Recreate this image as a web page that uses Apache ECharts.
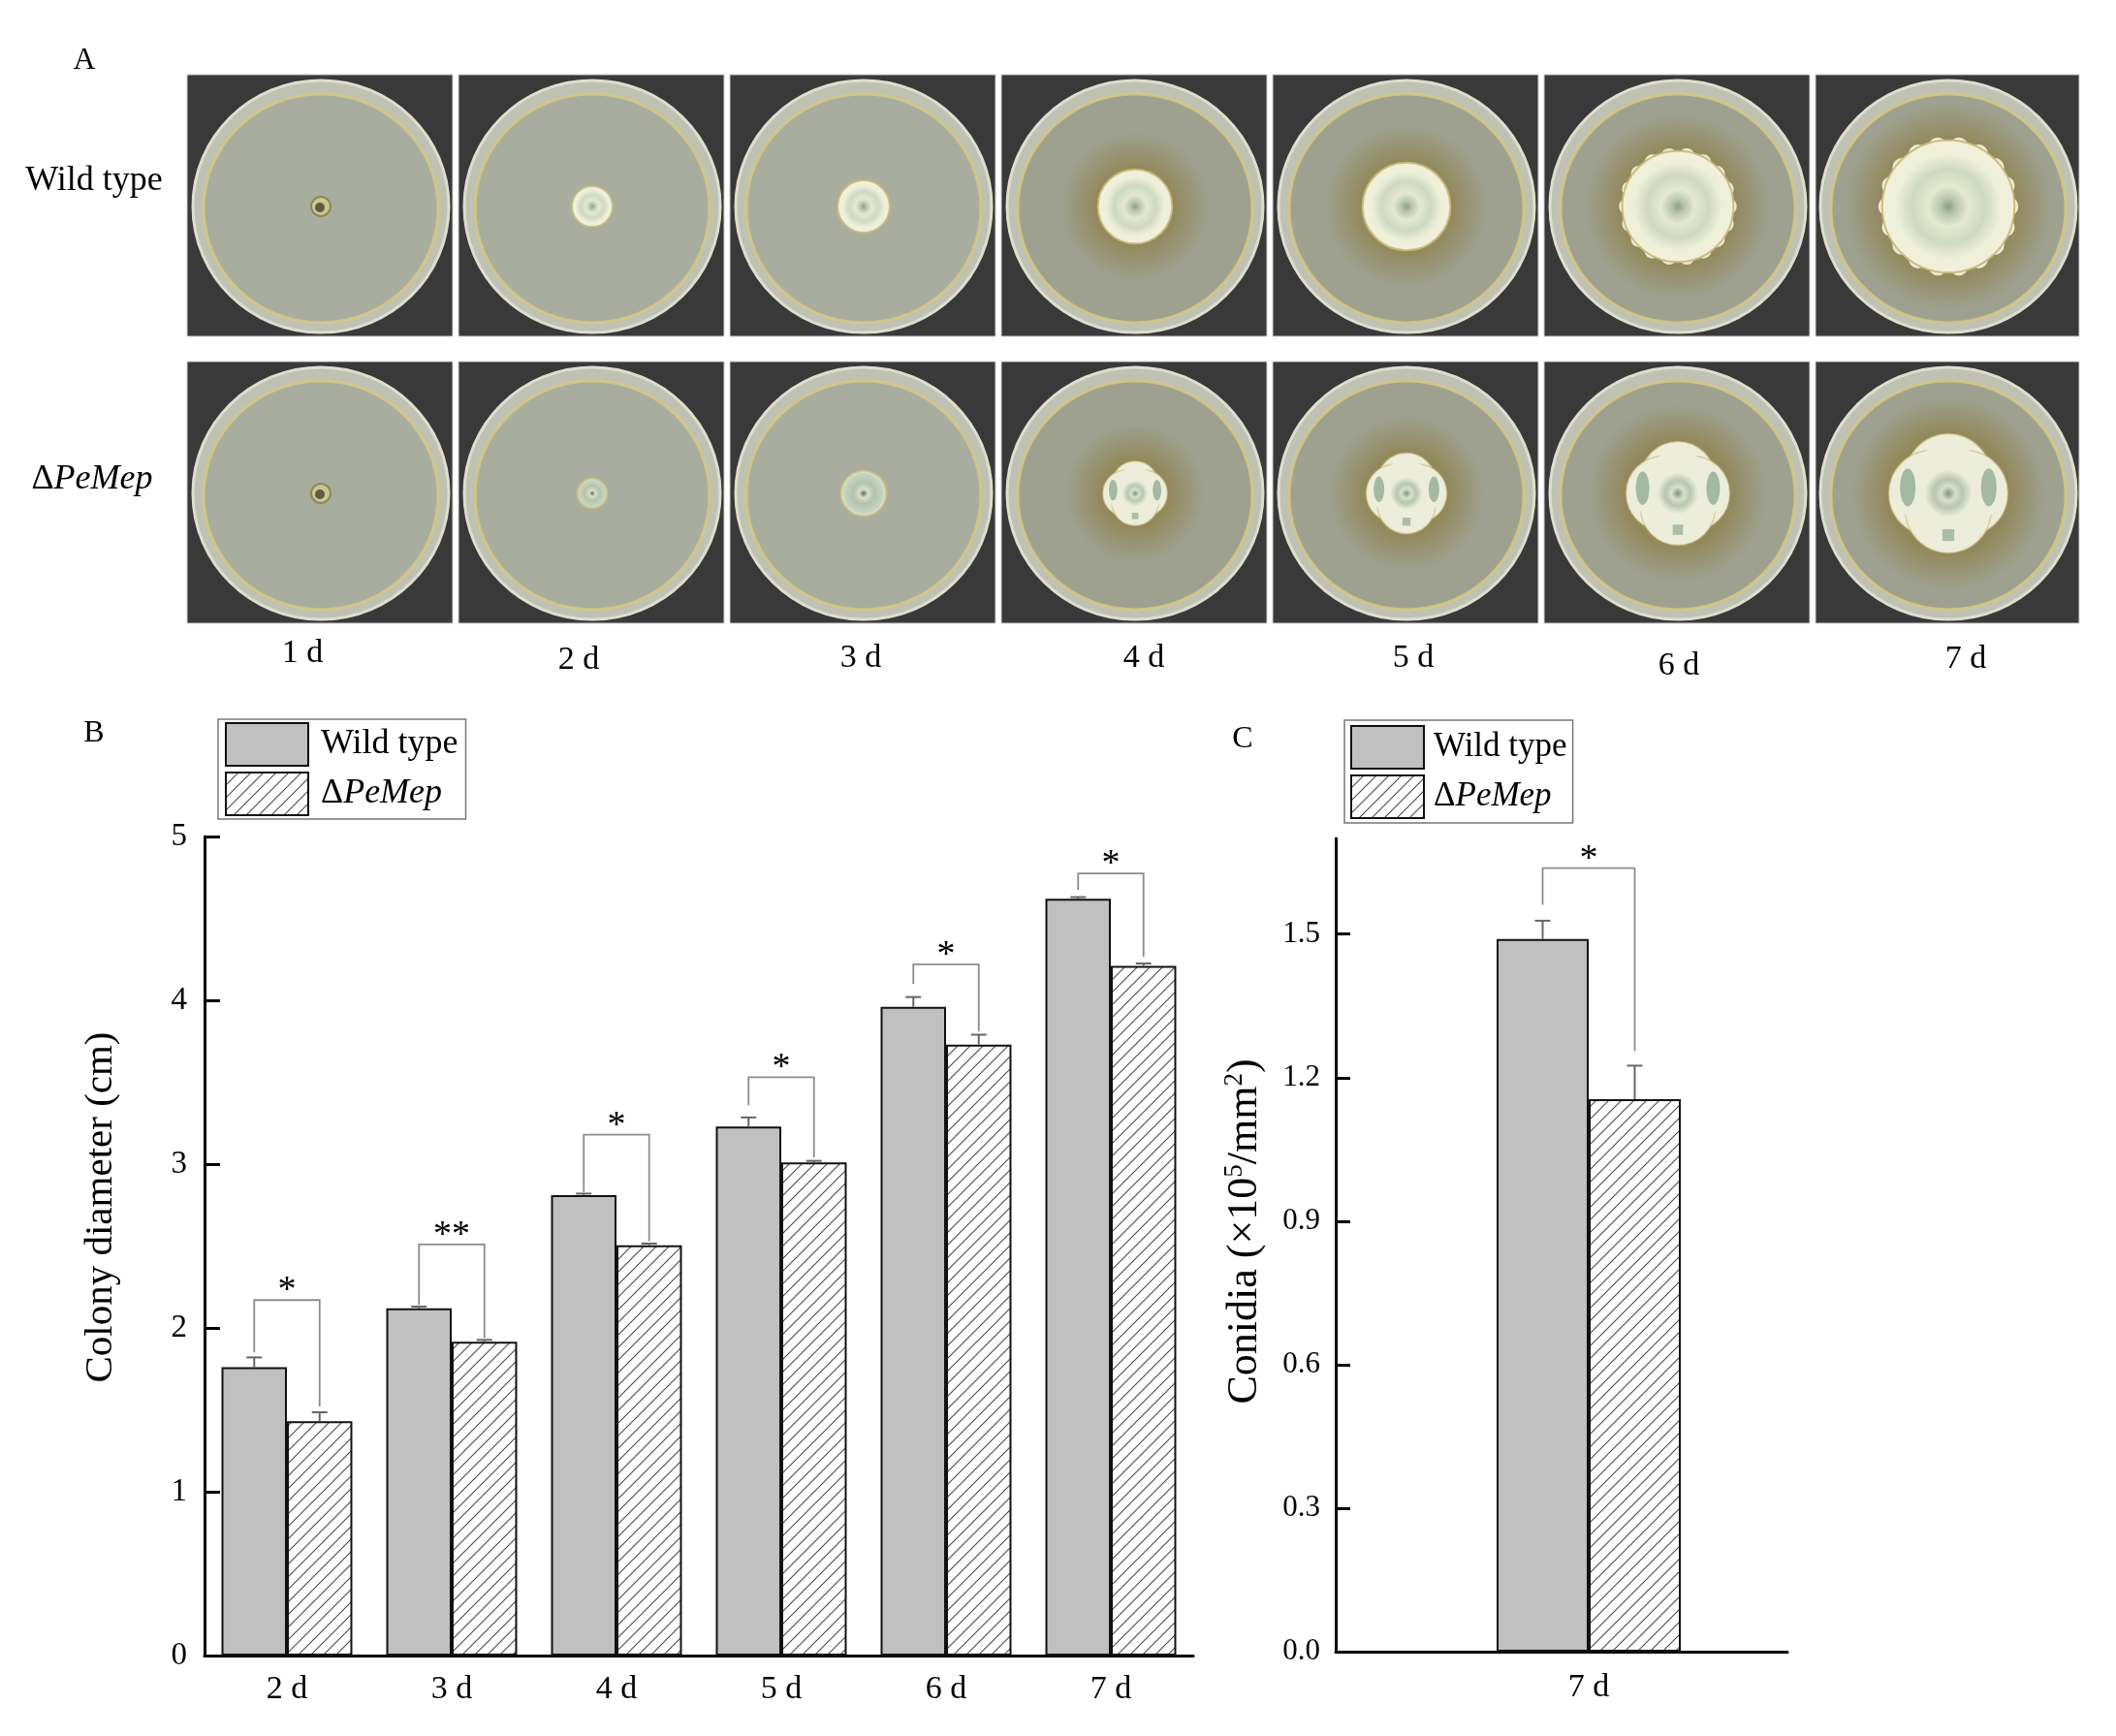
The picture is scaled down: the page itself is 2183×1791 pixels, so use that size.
<!DOCTYPE html>
<html>
<head>
<meta charset="utf-8">
<script src="https://cdn.jsdelivr.net/npm/echarts@6/dist/echarts.min.js"></script>
<style>
html,body{margin:0;padding:0;background:#fff;}
#chart{width:2183px;height:1791px;}
</style>
</head>
<body>
<div id="chart"></div>
<script>
// ---------------- DATA ----------------
const photoDays = ['1 d', '2 d', '3 d', '4 d', '5 d', '6 d', '7 d'];
const rowLabels = ['Wild type', 'ΔPeMep'];

const days = ['2 d', '3 d', '4 d', '5 d', '6 d', '7 d'];
const wtDiameter = [1.76, 2.12, 2.81, 3.23, 3.96, 4.62];
const wtDiameterErr = [0.06, 0.01, 0.01, 0.055, 0.06, 0.01];
const mutDiameter = [1.43, 1.915, 2.505, 3.01, 3.73, 4.21];
const mutDiameterErr = [0.055, 0.012, 0.01, 0.01, 0.06, 0.015];
const diameterSigMark = ['*', '**', '*', '*', '*', '*'];
const diameterSigTop = [2.17, 2.51, 3.18, 3.53, 4.22, 4.775];
const diameterSigLeftEnd = [1.85, 2.14, 2.83, 3.36, 4.10, 4.675];
const diameterSigRightEnd = [1.52, 1.94, 2.53, 3.04, 3.81, 4.267];
const diameterTicks = [0, 1, 2, 3, 4, 5];

const conidiaDays = ['7 d'];
const wtConidia = [1.49];
const wtConidiaErr = [0.038];
const mutConidia = [1.155];
const mutConidiaErr = [0.07];
const conidiaSigMark = ['*'];
const conidiaSigTop = [1.638];
const conidiaSigLeftEnd = [1.561];
const conidiaSigRightEnd = [1.256];
const conidiaTicks = [0, 0.3, 0.6, 0.9, 1.2, 1.5];

// ---------------- STYLE HELPERS ----------------
const FONT = '"Liberation Serif", "Times New Roman", serif';

function hatchCanvas() {
  const s = 13;
  const c = document.createElement('canvas');
  c.width = s; c.height = s;
  const ctx = c.getContext('2d');
  ctx.fillStyle = '#ffffff';
  ctx.fillRect(0, 0, s, s);
  ctx.strokeStyle = '#4a4a4a';
  ctx.lineWidth = 1.1;
  ctx.beginPath();
  ctx.moveTo(0, s); ctx.lineTo(s, 0);
  ctx.moveTo(-s / 2, s / 2); ctx.lineTo(s / 2, -s / 2);
  ctx.moveTo(s / 2, s * 1.5); ctx.lineTo(s * 1.5, s / 2);
  ctx.stroke();
  return c;
}
const hatchFill = { image: hatchCanvas(), repeat: 'repeat' };

const wtStyle = { color: '#c0c0c0', borderColor: '#111', borderWidth: 2 };
const mutStyle = { color: hatchFill, borderColor: '#111', borderWidth: 2 };

const B_GAP = 0.206;
function bBarWidth(api) { return api.size([1, 0])[0] * (1 - B_GAP) / 2; }
function cBarWidth() { return 95; }

function errRender(side, bwFn) {
  return function (params, api) {
    const ci = api.value(0), v = api.value(1), e = api.value(2);
    const bw = bwFn(api);
    const x = api.coord([ci, v])[0] + side * bw / 2;
    const yb = api.coord([ci, v])[1];
    const yt = api.coord([ci, v + e])[1];
    const cap = 8;
    return {
      type: 'group',
      children: [
        { type: 'line', shape: { x1: x, y1: yb, x2: x, y2: yt }, style: { stroke: '#666', lineWidth: 2 } },
        { type: 'line', shape: { x1: x - cap, y1: yt, x2: x + cap, y2: yt }, style: { stroke: '#666', lineWidth: 2 } }
      ]
    };
  };
}

function sigRender(marks, bwFn) {
  return function (params, api) {
    const ci = api.value(0);
    const bw = bwFn(api);
    const cx = api.coord([ci, 0])[0];
    const xL = cx - bw / 2, xR = cx + bw / 2;
    const yT = api.coord([ci, api.value(1)])[1];
    const yL = api.coord([ci, api.value(2)])[1];
    const yR = api.coord([ci, api.value(3)])[1];
    return {
      type: 'group',
      children: [
        { type: 'polyline', shape: { points: [[xL, yL], [xL, yT], [xR, yT], [xR, yR]] },
          style: { stroke: '#8c8c8c', lineWidth: 1.8, fill: null } },
        { type: 'text', style: { text: marks[params.dataIndex], x: cx, y: yT - 9,
          align: 'center', verticalAlign: 'middle', font: '38px ' + FONT, fill: '#000' } }
      ]
    };
  };
}

// ---------------- PANEL A (photo sketches) ----------------
const G = echarts.graphic;
function colonyPx(cm) { return 33 * cm - 16; }

function plate(col, row, diamCm) {
  const x0 = 193 + col * 280, y0 = row === 0 ? 77 : 373;
  const w = col === 6 ? 272 : 274, h = 270;
  const cx = x0 + w / 2 + 1, cy = y0 + h / 2 + 1;
  const dayN = col + 1;
  const late = dayN >= 4;
  const ch = [];
  ch.push({ type: 'rect', shape: { x: x0, y: y0, width: w, height: h },
    style: { fill: '#393939', stroke: '#cfcfcf', lineWidth: 1 } });
  ch.push({ type: 'ellipse', shape: { cx: cx, cy: cy, rx: 132, ry: 130 },
    style: { fill: '#bfc1b3', stroke: '#dddecf', lineWidth: 3 } });
  ch.push({ type: 'ellipse', shape: { cx: cx, cy: cy + 2, rx: 121, ry: 118 },
    style: { fill: late ? '#9ea190' : '#a9ad9f', stroke: 'rgba(214,200,130,0.85)', lineWidth: 3 } });
  if (diamCm === null) {
    ch.push({ type: 'circle', shape: { cx: cx, cy: cy, r: 10 }, style: { fill: '#c9c88f', stroke: '#8c8a55', lineWidth: 2 } });
    ch.push({ type: 'circle', shape: { cx: cx - 1, cy: cy + 1, r: 5 }, style: { fill: '#5a5c48' } });
    return { type: 'group', children: ch };
  }
  const R = colonyPx(diamCm) / 2;
  if (late) {
    ch.push({ type: 'circle', shape: { cx: cx, cy: cy, r: R + 38 },
      style: { fill: new G.RadialGradient(0.5, 0.5, 0.5, [
        { offset: 0, color: 'rgba(135,115,45,0.55)' },
        { offset: R / (R + 38), color: 'rgba(135,115,45,0.55)' },
        { offset: 1, color: 'rgba(135,115,45,0)' }]) } });
  }
  if (row === 0) {
    if (dayN >= 6) {
      const n = 18;
      for (let k = 0; k < n; k++) {
        const a = 2 * Math.PI * k / n;
        ch.push({ type: 'circle', shape: { cx: cx + Math.cos(a) * R * 0.92, cy: cy + Math.sin(a) * R * 0.92, r: R * 0.14 },
          style: { fill: '#ecebd2' } });
      }
    }
    ch.push({ type: 'circle', shape: { cx: cx, cy: cy, r: R },
      style: { fill: new G.RadialGradient(0.5, 0.5, 0.5, [
        { offset: 0, color: '#8e9d8a' }, { offset: 0.12, color: '#b9c5ae' },
        { offset: 0.3, color: '#e5e9d1' }, { offset: 0.55, color: '#cfd9c2' },
        { offset: 0.78, color: '#eef0da' }, { offset: 1, color: '#f1f0dc' }]),
        stroke: 'rgba(200,185,120,0.9)', lineWidth: 2 } });
  } else {
    if (late) {
      const angs = [-90, 180, 0, 90];
      angs.forEach(function (d) {
        const a = d * Math.PI / 180;
        ch.push({ type: 'circle', shape: { cx: cx + Math.cos(a) * R * 0.28, cy: cy + Math.sin(a) * R * 0.28, r: R * 0.72 },
          style: { fill: '#eceedb', stroke: 'rgba(200,185,120,0.6)', lineWidth: 1.5 } });
      });
      ch.push({ type: 'circle', shape: { cx: cx, cy: cy, r: R * 0.8 }, style: { fill: '#eceedb' } });
      ch.push({ type: 'ellipse', shape: { cx: cx - R * 0.68, cy: cy - R * 0.1, rx: R * 0.13, ry: R * 0.32 }, style: { fill: '#a3b9a2' } });
      ch.push({ type: 'ellipse', shape: { cx: cx + R * 0.68, cy: cy - R * 0.1, rx: R * 0.13, ry: R * 0.32 }, style: { fill: '#a3b9a2' } });
      ch.push({ type: 'rect', shape: { x: cx - R * 0.1, y: cy + R * 0.6, width: R * 0.2, height: R * 0.2 }, style: { fill: '#a9bea7' } });
      ch.push({ type: 'circle', shape: { cx: cx, cy: cy, r: R * 0.4 },
        style: { fill: new G.RadialGradient(0.5, 0.5, 0.5, [
          { offset: 0, color: '#7f927f' }, { offset: 0.3, color: '#d9e0cb' },
          { offset: 0.6, color: '#b8c6b0' }, { offset: 1, color: '#eceedb' }]) } });
    } else {
      ch.push({ type: 'circle', shape: { cx: cx, cy: cy, r: R },
        style: { fill: new G.RadialGradient(0.5, 0.5, 0.5, [
          { offset: 0, color: '#5e6a5c' }, { offset: 0.18, color: '#d9dfca' },
          { offset: 0.45, color: '#b2c4ad' }, { offset: 0.8, color: '#c6d4bf' },
          { offset: 1, color: '#e6e9d4' }]),
          stroke: 'rgba(200,185,120,0.8)', lineWidth: 2 } });
    }
  }
  return { type: 'group', children: ch };
}

const graphics = [];
const wtPhoto = [null].concat(wtDiameter);
const mutPhoto = [null].concat(mutDiameter);
photoDays.forEach(function (d, i) {
  graphics.push(plate(i, 0, wtPhoto[i]));
  graphics.push(plate(i, 1, mutPhoto[i]));
});
const labelNudge = [[-18, -6], [-13, 1], [-2, -1], [10, -1], [8, -1], [2, 7], [18, 0]];
photoDays.forEach(function (d, i) {
  graphics.push({ type: 'text', style: { text: d, x: 193 + i * 280 + 137 + labelNudge[i][0], y: 680 + labelNudge[i][1],
    align: 'center', verticalAlign: 'middle', font: '34px ' + FONT, fill: '#000' } });
});
graphics.push({ type: 'text', style: { text: rowLabels[0], x: 97, y: 187, align: 'center', verticalAlign: 'middle',
  font: '36px ' + FONT, fill: '#000' } });
graphics.push({ type: 'text', style: { text: '{n|Δ}{i|PeMep}', x: 95, y: 495, align: 'center', verticalAlign: 'middle',
  rich: { n: { fontSize: 36, fontFamily: FONT, fill: '#000' }, i: { fontSize: 36, fontFamily: FONT, fontStyle: 'italic', fill: '#000' } } } });
[['A', 87, 63], ['B', 97, 757], ['C', 1282, 763]].forEach(function (p) {
  graphics.push({ type: 'text', style: { text: p[0], x: p[1], y: p[2], align: 'center', verticalAlign: 'middle',
    font: '32px ' + FONT, fill: '#000' } });
});

// ---------------- CHART ----------------
const chart = echarts.init(document.getElementById('chart'), null, { renderer: 'canvas' });

const legendRich = {
  n: { fontSize: 36, fontFamily: FONT, color: '#000' },
  i: { fontSize: 36, fontFamily: FONT, fontStyle: 'italic', color: '#000' }
};
function legendFmt(name) { return name === 'ΔPeMep' ? '{n|Δ}{i|PeMep}' : '{n|' + name + '}'; }

const option = {
  backgroundColor: '#ffffff',
  animation: false,
  graphic: graphics,
  legend: [
    { data: ['Wild type', 'ΔPeMep'], orient: 'vertical', left: 225, top: 742, icon: 'rect',
      itemWidth: 85, itemHeight: 44, itemGap: 5, padding: [3, 8, 3, 7],
      borderColor: '#777', borderWidth: 1.5, backgroundColor: '#fff',
      formatter: legendFmt, textStyle: { fontSize: 36, fontFamily: FONT, color: '#000', padding: [0, 0, 0, 8], rich: legendRich },
      selectedMode: false },
    { data: ['Wild type', 'ΔPeMep'], orient: 'vertical', left: 1387, top: 743, icon: 'rect',
      itemWidth: 75, itemHeight: 44, itemGap: 5, padding: [5, 6, 4, 6],
      borderColor: '#777', borderWidth: 1.5, backgroundColor: '#fff',
      formatter: legendFmt, textStyle: { fontSize: 35, fontFamily: FONT, color: '#000', padding: [0, 0, 0, 5],
        rich: { n: { fontSize: 35, fontFamily: FONT, color: '#000' }, i: { fontSize: 35, fontFamily: FONT, fontStyle: 'italic', color: '#000' } } },
      selectedMode: false }
  ],
  grid: [
    { left: 211, top: 863, width: 1020, height: 845 },
    { left: 1378, top: 865, width: 522, height: 839 },
    { left: 1378, top: 865, width: 466, height: 839 }
  ],
  xAxis: [
    { type: 'category', gridIndex: 0, data: days,
      axisLine: { lineStyle: { color: '#000', width: 3 } }, axisTick: { show: false },
      axisLabel: { fontSize: 34, fontFamily: FONT, color: '#000', margin: 18 } },
    { type: 'category', gridIndex: 1, data: conidiaDays,
      axisLine: { show: false }, axisTick: { show: false },
      axisLabel: { fontSize: 34, fontFamily: FONT, color: '#000', margin: 20 } },
    { type: 'value', gridIndex: 2, min: 0, max: 1,
      axisLine: { show: true, onZero: false, lineStyle: { color: '#000', width: 3 } },
      axisTick: { show: false }, axisLabel: { show: false }, splitLine: { show: false } }
  ],
  yAxis: [
    { type: 'value', gridIndex: 0, min: 0, max: 5, interval: 1,
      axisLine: { show: true, lineStyle: { color: '#000', width: 3 } },
      axisTick: { show: true, inside: true, length: 16, lineStyle: { color: '#000', width: 3 }, customValues: diameterTicks },
      axisLabel: { fontSize: 33, fontFamily: FONT, color: '#000', margin: 18, customValues: diameterTicks },
      splitLine: { show: false },
      name: 'Colony diameter (cm)', nameLocation: 'middle', nameGap: 86,
      nameTextStyle: { fontSize: 41, fontFamily: FONT, color: '#000', padding: [0, 0, 0, 80] } },
    { type: 'value', gridIndex: 1, min: 0, max: 1.7, interval: 0.3,
      axisLine: { show: true, lineStyle: { color: '#000', width: 3 } },
      axisTick: { show: true, inside: true, length: 15, lineStyle: { color: '#000', width: 3 }, customValues: conidiaTicks },
      axisLabel: { fontSize: 31, fontFamily: FONT, color: '#000', margin: 16, customValues: conidiaTicks,
        formatter: function (v) { return v.toFixed(1); } },
      splitLine: { show: false },
      name: '{t|Conidia (×10}{s|5}{t|/mm}{s|2}{t|)}', nameLocation: 'middle', nameGap: 70,
      nameTextStyle: { fontSize: 44, fontFamily: FONT, color: '#000', padding: [0, 0, 0, 28],
        rich: { t: { fontSize: 44, fontFamily: FONT, color: '#000', lineHeight: 48 },
                s: { fontSize: 27, fontFamily: FONT, color: '#000', verticalAlign: 'top', lineHeight: 48 } } } },
    { type: 'value', gridIndex: 2, min: 0, max: 1, show: false }
  ],
  series: [
    { name: 'Wild type', type: 'bar', xAxisIndex: 0, yAxisIndex: 0, data: wtDiameter,
      barGap: '0%', barCategoryGap: (B_GAP * 100) + '%', itemStyle: wtStyle, z: 2 },
    { name: 'ΔPeMep', type: 'bar', xAxisIndex: 0, yAxisIndex: 0, data: mutDiameter,
      barGap: '0%', barCategoryGap: (B_GAP * 100) + '%', itemStyle: mutStyle, z: 2 },
    { type: 'custom', xAxisIndex: 0, yAxisIndex: 0, z: 4, silent: true,
      data: days.map(function (d, i) { return [i, wtDiameter[i], wtDiameterErr[i]]; }),
      renderItem: errRender(-1, bBarWidth) },
    { type: 'custom', xAxisIndex: 0, yAxisIndex: 0, z: 4, silent: true,
      data: days.map(function (d, i) { return [i, mutDiameter[i], mutDiameterErr[i]]; }),
      renderItem: errRender(1, bBarWidth) },
    { type: 'custom', xAxisIndex: 0, yAxisIndex: 0, z: 5, silent: true,
      data: days.map(function (d, i) { return [i, diameterSigTop[i], diameterSigLeftEnd[i], diameterSigRightEnd[i]]; }),
      renderItem: sigRender(diameterSigMark, bBarWidth) },

    { name: 'Wild type', type: 'bar', xAxisIndex: 1, yAxisIndex: 1, data: wtConidia,
      barGap: '0%', barWidth: 95, itemStyle: wtStyle, z: 2 },
    { name: 'ΔPeMep', type: 'bar', xAxisIndex: 1, yAxisIndex: 1, data: mutConidia,
      barGap: '0%', barWidth: 95, itemStyle: mutStyle, z: 2 },
    { type: 'custom', xAxisIndex: 1, yAxisIndex: 1, z: 4, silent: true,
      data: conidiaDays.map(function (d, i) { return [i, wtConidia[i], wtConidiaErr[i]]; }),
      renderItem: errRender(-1, cBarWidth) },
    { type: 'custom', xAxisIndex: 1, yAxisIndex: 1, z: 4, silent: true,
      data: conidiaDays.map(function (d, i) { return [i, mutConidia[i], mutConidiaErr[i]]; }),
      renderItem: errRender(1, cBarWidth) },
    { type: 'custom', xAxisIndex: 1, yAxisIndex: 1, z: 5, silent: true,
      data: conidiaDays.map(function (d, i) { return [i, conidiaSigTop[i], conidiaSigLeftEnd[i], conidiaSigRightEnd[i]]; }),
      renderItem: sigRender(conidiaSigMark, cBarWidth) }
  ]
};
chart.setOption(option);
</script>
</body>
</html>
